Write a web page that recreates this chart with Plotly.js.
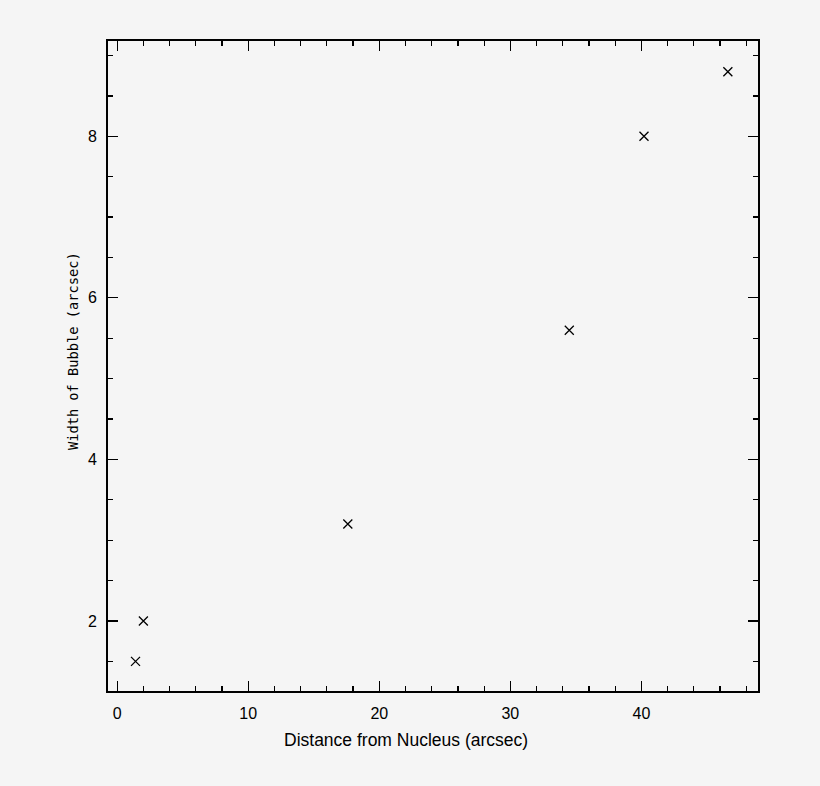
<!DOCTYPE html>
<html>
<head>
<meta charset="utf-8">
<script src="https://cdn.plot.ly/plotly-3.0.1.min.js"></script>
<style>
  html, body { margin: 0; padding: 0; background: #f5f5f5; }
  #chart { width: 820px; height: 786px; }
</style>
</head>
<body>
<div id="chart"></div>
<script>
// distance from nucleus (arcsec) and bubble width (arcsec)
const distance = [1.4, 2.0, 17.6, 34.5, 40.2, 46.6];
const width = [1.5, 2.0, 3.2, 5.6, 8.0, 8.8];

const xTicks = [0, 10, 20, 30, 40];
const yTicks = [2, 4, 6, 8];

const trace = {
    x: distance,
    y: width,
    mode: 'markers',
    type: 'scatter',
    marker: {
        symbol: 'x-thin',
        size: 9,
        color: 'black',
        line: { color: 'black', width: 1.3 }
    },
    hoverinfo: 'skip'
};

const tickFont = { family: 'Liberation Sans, Arial, sans-serif', size: 16, color: 'black' };

const layout = {
    width: 820,
    height: 786,
    showlegend: false,
    paper_bgcolor: '#f5f5f5',
    plot_bgcolor: '#f5f5f5',
    margin: { l: 108, r: 62, t: 41, b: 95 },
    xaxis: {
        range: [-0.7, 48.9],
        tickvals: xTicks,
        ticks: 'inside',
        ticklen: 10,
        tickwidth: 1.2,
        tickcolor: 'black',
        minor: { dtick: 2, tick0: 0, ticks: 'inside', ticklen: 5, tickcolor: 'black', tickwidth: 1.2 },
        showgrid: false,
        zeroline: false,
        showline: true,
        linecolor: 'black',
        linewidth: 2,
        mirror: 'ticks',
        tickfont: tickFont,
        ticklabelstandoff: 7
    },
    yaxis: {
        range: [1.133, 9.18],
        tickvals: yTicks,
        ticks: 'inside',
        ticklen: 10,
        tickwidth: 1.2,
        tickcolor: 'black',
        minor: { dtick: 0.5, tick0: 0, ticks: 'inside', ticklen: 5, tickcolor: 'black', tickwidth: 1.2 },
        showgrid: false,
        zeroline: false,
        showline: true,
        linecolor: 'black',
        linewidth: 2,
        mirror: 'ticks',
        tickfont: tickFont,
        ticklabelstandoff: 6
    },
    // axis titles placed as annotations so they sit where the original has them
    annotations: [
        {
            text: 'Distance from Nucleus (arcsec)',
            xref: 'paper', yref: 'paper',
            x: 0.4585, y: -0.0754,
            xanchor: 'center', yanchor: 'middle',
            showarrow: false,
            font: { family: 'Liberation Sans, Arial, sans-serif', size: 17.5, color: 'black' }
        },
        {
            text: 'Width of Bubble (arcsec)',
            xref: 'paper', yref: 'paper',
            x: -0.0538, y: 0.523,
            xanchor: 'center', yanchor: 'middle',
            textangle: -90,
            showarrow: false,
            font: { family: 'DejaVu Sans Mono, monospace', size: 13.7, color: 'black' }
        }
    ]
};

Plotly.newPlot('chart', [trace], layout, { displayModeBar: false, staticPlot: true });
</script>
</body>
</html>
